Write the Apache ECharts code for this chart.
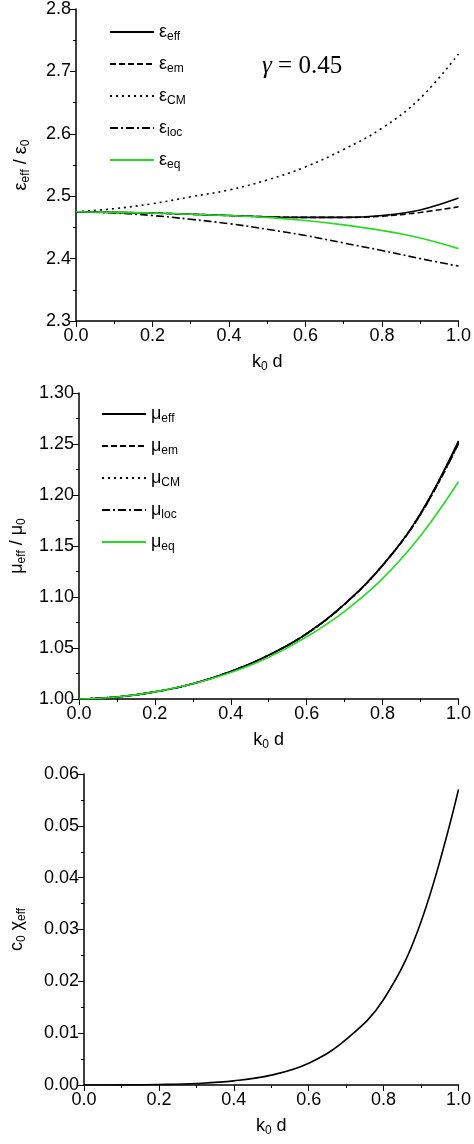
<!DOCTYPE html>
<html><head><meta charset="utf-8">
<script src="https://cdn.jsdelivr.net/npm/echarts@6/dist/echarts.min.js"></script>
<style>html,body{margin:0;padding:0;background:#fff}#c{width:474px;height:1144px}</style>
</head><body><div id="c"></div>
<script>
const kd = [0,0.1,0.2,0.3,0.4,0.5,0.6,0.7,0.8,0.9,1.0];
const epsEff = [2.475,2.474,2.473,2.471,2.469,2.467,2.466,2.466,2.469,2.478,2.497];
const epsEm  = [2.475,2.474,2.473,2.471,2.469,2.467,2.466,2.466,2.468,2.474,2.483];
const epsCM  = [2.475,2.480,2.488,2.499,2.510,2.526,2.547,2.575,2.609,2.657,2.728];
const epsLoc = [2.475,2.473,2.469,2.463,2.456,2.447,2.437,2.425,2.413,2.400,2.388];
const epsEq  = [2.475,2.474,2.473,2.471,2.469,2.466,2.461,2.454,2.445,2.433,2.416];
const muEff = [1.000,1.002,1.007,1.015,1.027,1.043,1.064,1.093,1.131,1.182,1.253];
const muEm  = [1.000,1.002,1.007,1.015,1.027,1.043,1.064,1.093,1.131,1.181,1.251];
const muCM  = [1.000,1.002,1.007,1.015,1.027,1.043,1.064,1.093,1.131,1.182,1.252];
const muLoc = [1.000,1.002,1.007,1.015,1.027,1.043,1.064,1.093,1.131,1.181,1.250];
const muEq  = [1.000,1.002,1.007,1.015,1.026,1.041,1.061,1.086,1.118,1.160,1.213];
const chi   = [0,0.00002,0.0001,0.0003,0.0008,0.0019,0.0042,0.0088,0.0165,0.0315,0.0570];

const F = 'Liberation Sans, Arial, sans-serif';
const pair = a => kd.map((x,i)=>[x,a[i]]);
const rich = {m:{fontSize:18,fontFamily:F,color:'#000'},s:{fontSize:12,fontFamily:F,color:'#000',padding:[10,0,0,0]}};
function xAxis(i){return {type:'value',gridIndex:i,min:0,max:1,interval:0.2,
  name:'{m|k}{s|0}{m| d}',nameLocation:'middle',nameGap:30,nameTextStyle:{rich:rich},
  axisLine:{lineStyle:{color:'#000',width:1.5}},axisTick:{inside:false,length:6,lineStyle:{color:'#000'}},
  minorTick:{show:true,splitNumber:2,length:3,lineStyle:{color:'#000'}},
  splitLine:{show:false},axisLabel:{color:'#000',fontSize:18,fontFamily:F,margin:6,formatter:v=>v.toFixed(1)}};}
function yAxis(i,min,max,iv,dec,name,gap){return {type:'value',gridIndex:i,min:min,max:max,interval:iv,
  name:name,nameLocation:'middle',nameGap:gap,nameRotate:90,nameTextStyle:{rich:rich},
  axisLine:{show:true,lineStyle:{color:'#000',width:1.5}},axisTick:{show:true,length:6,lineStyle:{color:'#000'}},
  minorTick:{show:true,splitNumber:2,length:3,lineStyle:{color:'#000'}},
  splitLine:{show:false},axisLabel:{color:'#000',fontSize:18,fontFamily:F,margin:5,formatter:v=>v.toFixed(dec)}};}
function s(name,data,xi,type,color){return {name:name,type:'line',xAxisIndex:xi,yAxisIndex:xi,data:pair(data),
  smooth:0.4,showSymbol:false,symbol:'none',lineStyle:{color:color||'#000',width:1.6,type:type},itemStyle:{color:color||'#000'}};}
const eN=['ε_eff','ε_em','ε_CM','ε_loc','ε_eq'], mN=['μ_eff','μ_em','μ_CM','μ_loc','μ_eq'];
const legItem = {color:'transparent',borderWidth:0};
const chart = echarts.init(document.getElementById('c'));
chart.setOption({
  animation:false,
  grid:[{left:76,top:8,width:384,height:313},{left:76,top:393,width:384,height:306},{left:76,top:774,width:384,height:311}],
  xAxis:[xAxis(0),xAxis(1),xAxis(2)],
  yAxis:[yAxis(0,2.3,2.8,0.1,1,'{m|ε}{s|eff}{m| / ε}{s|0}',44),
         yAxis(1,1.0,1.3,0.05,2,'{m|μ}{s|eff}{m| / μ}{s|0}',50),
         yAxis(2,0,0.06,0.01,2,'{m|c}{s|0}{m| χ}{s|eff}',56)],
  legend:[
    {orient:'vertical',left:104,top:18,itemWidth:44,itemGap:12,data:eN,itemStyle:legItem,formatter:n=>'{m|ε}{s|'+n.split('_')[1]+'}',textStyle:{rich:rich}},
    {orient:'vertical',left:96,top:400,itemWidth:44,itemGap:12,data:mN,itemStyle:legItem,formatter:n=>'{m|μ}{s|'+n.split('_')[1]+'}',textStyle:{rich:rich}}
  ],
  graphic:[{type:'text',left:262,top:54,style:{text:'{g|γ}{t| = 0.45}',
    rich:{g:{fontSize:25,fontFamily:'Liberation Serif, serif',fontStyle:'italic',fill:'#000'},t:{fontSize:25,fontFamily:'Liberation Serif, serif',fill:'#000'}}}}],
  series:[
    s('ε_eff',epsEff,0,'solid'),s('ε_em',epsEm,0,[6,3]),s('ε_CM',epsCM,0,[2,4]),s('ε_loc',epsLoc,0,[8,3,2,3]),s('ε_eq',epsEq,0,'solid','#22dd22'),
    s('μ_eff',muEff,1,'solid'),s('μ_em',muEm,1,[6,3]),s('μ_CM',muCM,1,[2,4]),s('μ_loc',muLoc,1,[8,3,2,3]),s('μ_eq',muEq,1,'solid','#22dd22'),
    s('chi',chi,2,'solid')
  ]
});
</script></body></html>
